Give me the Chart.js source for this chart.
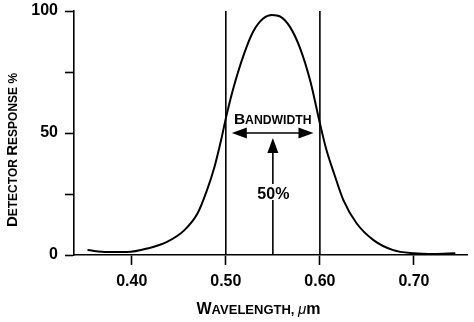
<!DOCTYPE html>
<html>
<head>
<meta charset="utf-8">
<script src="https://cdn.jsdelivr.net/npm/chart.js@4/dist/chart.umd.min.js"></script>
<style>
html,body{margin:0;padding:0;background:#fff;}
#wrap{width:474px;height:322px;position:relative;}
</style>
</head>
<body>
<div id="wrap"><canvas id="c" width="474" height="322"></canvas></div>
<script>
// ---- data ----
const wavelength = [0.353,0.374,0.395,0.417,0.438,0.456,0.470,0.480,0.488,0.495,0.500,0.508,0.519,0.529,0.540,0.549,0.558,0.568,0.579,0.590,0.600,0.607,0.615,0.625,0.639,0.657,0.678,0.700,0.721,0.744];
const response   = [2.0,1.2,1.2,2.7,5.5,10.2,17.1,26.6,36.2,47.1,56,68.3,82,91.5,97,98.4,97.7,93.6,84.7,71,54,43,33.5,22.5,13,6.1,2.0,0.7,0.4,0.7];
const xTickValues = [0.40,0.50,0.60,0.70];
const yTickValues = [0,25,50,75,100];
const yLabelled   = [0,50,100];
const bandEdges   = [0.50,0.60];
const halfLevel   = 50;
const centerWave  = 0.55;
const bandArrowEnds = [0.5064,0.5932];
const upArrowTop  = 48;
const labelBandwidth = [["B","big"],["ANDWIDTH","small"]];
const labelHalf = "50%";
const xTitleParts = [["W","big"],["AVELENGTH, ","small"],["\u03BC","mu"],["m","big"]];
const yTitleParts = [["D","big"],["ETECTOR ","small"],["R","big"],["ESPONSE %","small"]];

const FONT = "'Liberation Sans', Arial, sans-serif";

function drawParts(ctx, parts, sizes, cx, baseline){
  const fontFor = k => {
    if (k==="mu") return "italic " + sizes.mu + "px " + FONT;
    return "bold " + sizes[k] + "px " + FONT;
  };
  let total = 0;
  parts.forEach(p=>{ctx.font = fontFor(p[1]); total += ctx.measureText(p[0]).width;});
  let x = cx - total/2;
  ctx.textAlign = "left";
  ctx.textBaseline = "alphabetic";
  parts.forEach(p=>{ctx.font = fontFor(p[1]); ctx.fillText(p[0], x, baseline); x += ctx.measureText(p[0]).width;});
}

const annot = {
  id:"annot",
  afterDatasetsDraw(chart){
    const ctx = chart.ctx, xs = chart.scales.x, ys = chart.scales.y;
    ctx.save();
    ctx.strokeStyle = "#000"; ctx.fillStyle = "#000"; ctx.lineWidth = 1.6;
    // horizontal double arrow
    const yh = ys.getPixelForValue(halfLevel);
    const xl = xs.getPixelForValue(bandArrowEnds[0]);
    const xr = xs.getPixelForValue(bandArrowEnds[1]);
    const ah = 15, aw = 5.5;
    ctx.beginPath(); ctx.moveTo(xl+ah-2, yh); ctx.lineTo(xr-ah+2, yh); ctx.stroke();
    ctx.beginPath(); ctx.moveTo(xl, yh); ctx.lineTo(xl+ah, yh-aw); ctx.lineTo(xl+ah, yh+aw); ctx.closePath(); ctx.fill();
    ctx.beginPath(); ctx.moveTo(xr, yh); ctx.lineTo(xr-ah, yh-aw); ctx.lineTo(xr-ah, yh+aw); ctx.closePath(); ctx.fill();
    // vertical arrow
    const xc = xs.getPixelForValue(centerWave);
    const yt = ys.getPixelForValue(upArrowTop);
    const y0 = ys.getPixelForValue(0);
    ctx.beginPath(); ctx.moveTo(xc, y0); ctx.lineTo(xc, yt+ah-2); ctx.stroke();
    ctx.beginPath(); ctx.moveTo(xc, yt); ctx.lineTo(xc-aw, yt+ah); ctx.lineTo(xc+aw, yt+ah); ctx.closePath(); ctx.fill();
    // 50% label with white box
    ctx.font = "bold 16px " + FONT;
    const w = ctx.measureText(labelHalf).width;
    ctx.fillStyle = "#fff";
    ctx.fillRect(xc - w/2 - 1, 184, w + 2, 16);
    ctx.fillStyle = "#000";
    ctx.textAlign = "center"; ctx.textBaseline = "alphabetic";
    ctx.fillText(labelHalf, xc+0.5, 198.5);
    // BANDWIDTH
    drawParts(ctx, labelBandwidth, {big:15.5, small:12.2}, (xl+xr)/2, 123.5);
    // x title
    drawParts(ctx, xTitleParts, {big:16, small:13, mu:15}, 258.5, 314);
    // y title
    ctx.translate(16.5, 150);
    ctx.rotate(-Math.PI/2);
    drawParts(ctx, yTitleParts, {big:15, small:12}, 0, 0);
    ctx.restore();
  }
};

new Chart(document.getElementById("c"), {
  type:"line",
  data:{
    datasets:[
      {data: wavelength.map((w,i)=>({x:w, y:response[i]})), borderColor:"#000", borderWidth:2, pointRadius:0, tension:0.4, cubicInterpolationMode:"monotone", fill:false},
      {data: [{x:bandEdges[0], y:0},{x:bandEdges[0], y:100}], borderColor:"#000", borderWidth:1.6, pointRadius:0, fill:false},
      {data: [{x:bandEdges[1], y:0},{x:bandEdges[1], y:100}], borderColor:"#000", borderWidth:1.6, pointRadius:0, fill:false}
    ]
  },
  options:{
    responsive:false, animation:false, devicePixelRatio:1,
    layout:{padding:{top:11, right:7, left:0, bottom:0}},
    plugins:{legend:{display:false}, tooltip:{enabled:false}},
    scales:{
      x:{
        type:"linear", min:0.3386, max:0.7564,
        afterBuildTicks(s){ s.ticks = xTickValues.map(v=>({value:v})); },
        afterFit(s){ s.height = 67; s.paddingLeft = 0; s.paddingRight = 0; },
        ticks:{color:"#000", font:{family:FONT, size:16, weight:"bold"}, padding:7, maxRotation:0, autoSkip:false,
               callback:v=>Number(v).toFixed(2)},
        grid:{display:true, drawOnChartArea:false, drawTicks:true, tickLength:10, tickColor:"#000", tickWidth:1.6},
        border:{display:true, color:"#000", width:1.6}
      },
      y:{
        type:"linear", min:0, max:100,
        afterBuildTicks(s){ s.ticks = yTickValues.map(v=>({value:v})); },
        afterFit(s){ s.width = 74; s.paddingTop = 0; s.paddingBottom = 0; },
        ticks:{color:"#000", font:{family:FONT, size:16, weight:"bold"}, padding:7, autoSkip:false,
               callback:v=>yLabelled.includes(v) ? String(v) : ""},
        grid:{display:true, drawOnChartArea:false, drawTicks:true, tickLength:9, tickColor:"#000", tickWidth:1.6},
        border:{display:true, color:"#000", width:1.6}
      }
    }
  },
  plugins:[annot]
});
</script>
</body>
</html>
